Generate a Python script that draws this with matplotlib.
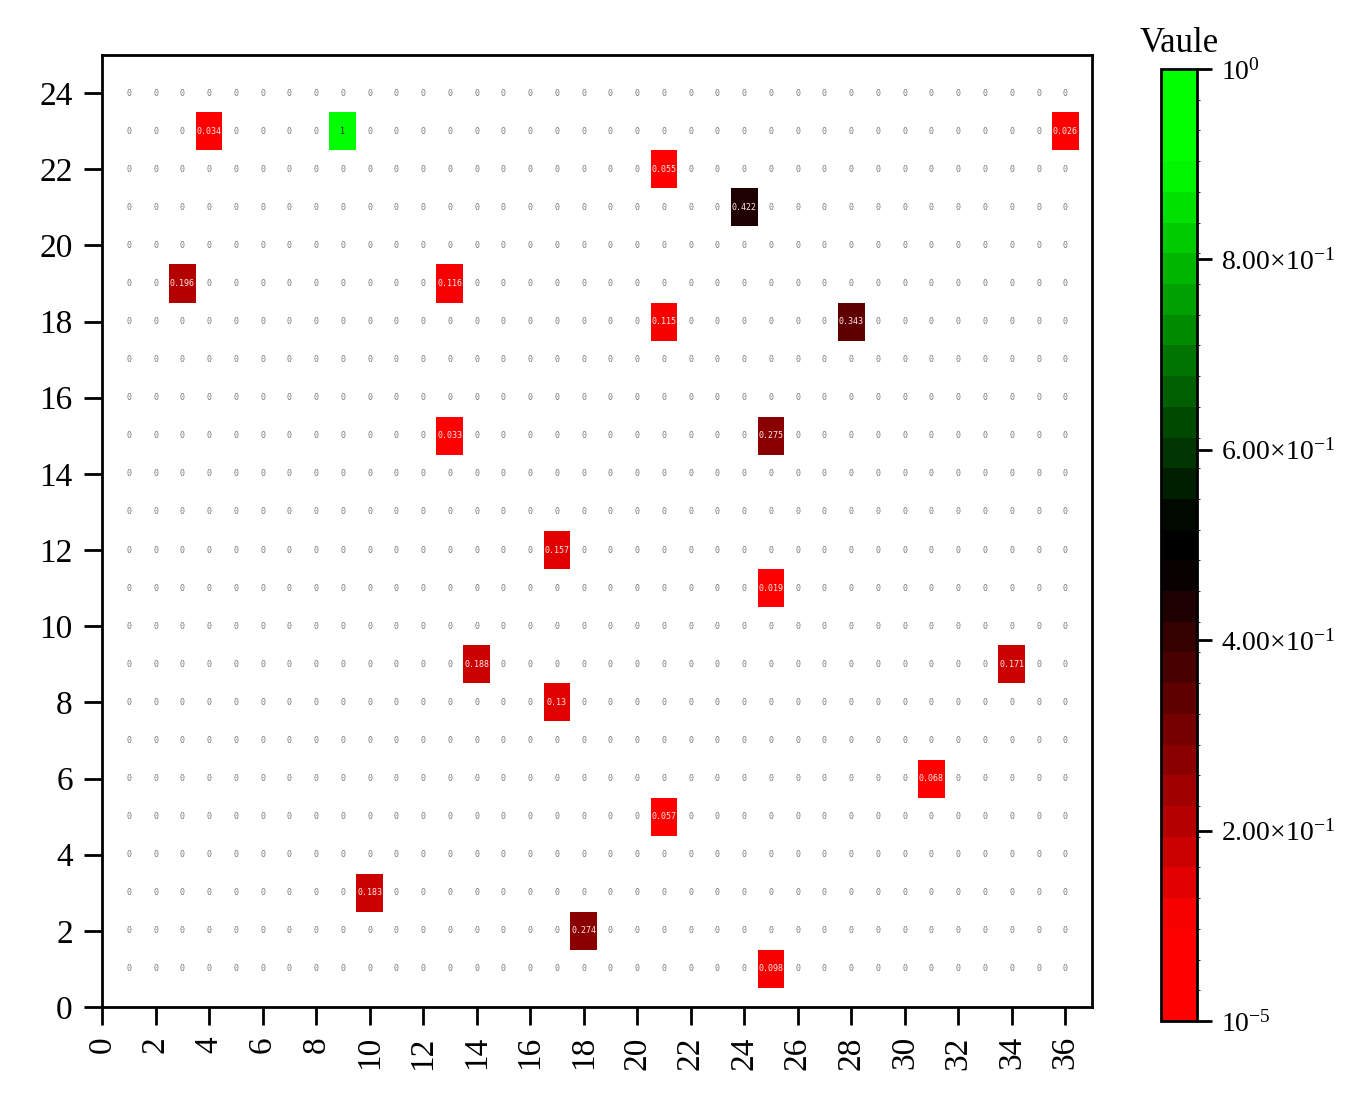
import numpy as np
import matplotlib
matplotlib.use('Agg')
import matplotlib.pyplot as plt
from matplotlib.colors import ListedColormap, BoundaryNorm

plt.rcParams['font.family'] = ['Liberation Serif', 'DejaVu Serif']
plt.rcParams['mathtext.fontset'] = 'custom'
plt.rcParams['mathtext.rm'] = 'Liberation Serif'

# grid size
ncols = 36
nrows = 24

# non-zero cells (column, row, value)
cell_x = [4, 9, 36, 21, 24, 3, 13, 21, 28, 13, 25, 17, 25, 14, 34, 17, 31, 21, 10, 18, 25]
cell_y = [23, 23, 23, 22, 21, 19, 19, 18, 18, 15, 15, 12, 11, 9, 9, 8, 6, 5, 3, 2, 1]
cell_v = [0.034, 1, 0.026, 0.055, 0.422, 0.196, 0.116, 0.115, 0.343, 0.033, 0.275,
          0.157, 0.019, 0.188, 0.171, 0.13, 0.068, 0.057, 0.183, 0.274, 0.098]

cbar_ticks = [0, 0.2, 0.4, 0.6, 0.8, 1.0]
cbar_labels = [r'$\mathregular{10^{-5}}$', r'$\mathregular{2.00{\times}10^{-1}}$',
               r'$\mathregular{4.00{\times}10^{-1}}$', r'$\mathregular{6.00{\times}10^{-1}}$',
               r'$\mathregular{8.00{\times}10^{-1}}$', r'$\mathregular{10^{0}}$']

grid = np.zeros((nrows, ncols))
for x, y, v in zip(cell_x, cell_y, cell_v):
    grid[y - 1, x - 1] = v

# red -> black -> green, banded
nb = 31
bounds = np.linspace(0, 1, nb + 1)
centers = (bounds[:-1] + bounds[1:]) / 2
cols = []
for c in centers:
    r = np.clip((0.48 - c) / 0.38, 0, 1)
    g = np.clip((c - 0.52) / 0.38, 0, 1)
    cols.append((r, g, 0))
cmap = ListedColormap(cols)
cmap.set_bad('white')
norm = BoundaryNorm(bounds, cmap.N)

fig = plt.figure(figsize=(13.64, 11.13), dpi=100)
ax = fig.add_axes([0.0748, 0.0952, 0.7258, 0.8554])

xe = np.arange(0.5, ncols + 1.5, 1)
ye = np.arange(0.5, nrows + 1.5, 1)
masked = np.ma.masked_equal(grid, 0)
mesh = ax.pcolormesh(xe, ye, masked, cmap=cmap, norm=norm)

for j in range(nrows):
    for i in range(ncols):
        v = grid[j, i]
        if v == 0:
            txt, col = '0', '#7a7a7a'
        else:
            txt = ('%g' % v)
            col = '#202020' if v > 0.9 else '#ffe8e8'
        ax.text(i + 1, j + 1, txt, ha='center', va='center', fontsize=6,
                color=col, family='DejaVu Sans Mono')

ax.set_xlim(0, 37)
ax.set_ylim(0, 25)
ax.set_xticks(np.arange(0, 37, 2))
ax.set_yticks(np.arange(0, 25, 2))
ax.tick_params(axis='both', direction='out', length=13, width=2, labelsize=24, pad=8)
ax.tick_params(axis='x', labelrotation=90)
for s in ax.spines.values():
    s.set_linewidth(2)

cax = fig.add_axes([0.8512, 0.0827, 0.0264, 0.8553])
cb = fig.colorbar(mesh, cax=cax, ticks=cbar_ticks)
cb.ax.set_yticklabels(cbar_labels)
cb.ax.tick_params(direction='out', length=11, width=2, labelsize=20, pad=6)
cb.outline.set_linewidth(2)
cax.set_title('Vaule', fontsize=25, pad=12)

fig.savefig('out.png', dpi=100)
